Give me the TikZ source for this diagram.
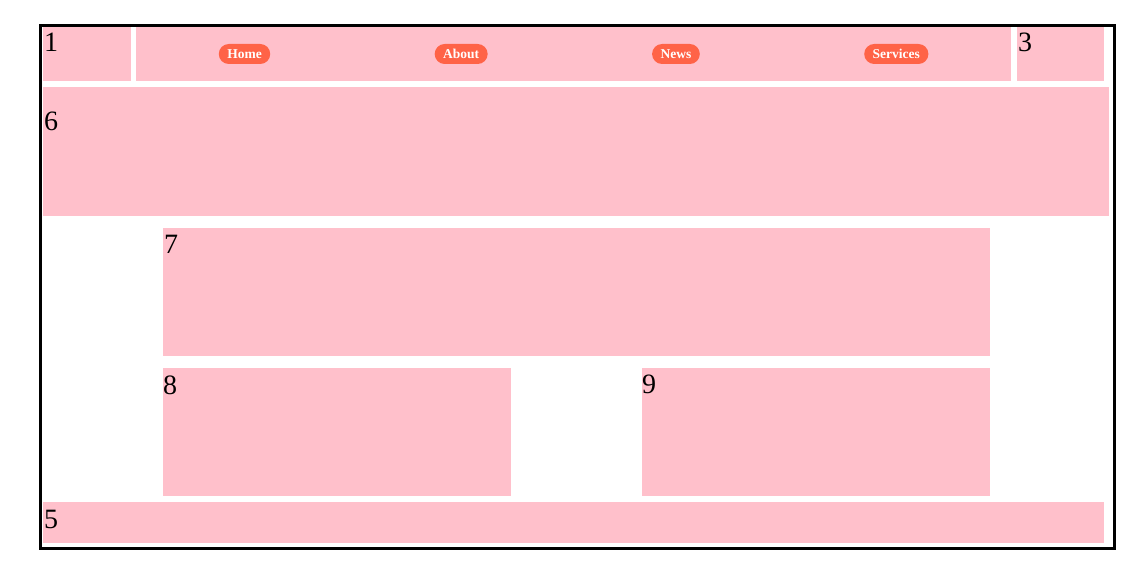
\documentclass[tikz,border=0pt]{standalone}
\usepackage{fontspec}
\setmainfont{Liberation Serif}
\usetikzlibrary{positioning}
\definecolor{cellpink}{HTML}{FFC0CB}
\definecolor{navred}{HTML}{FF6347}

\begin{document}
\begin{tikzpicture}[x=1pt,y=-1pt,
    cell/.style={fill=cellpink,draw=none,anchor=north west,inner sep=0pt},
    num/.style={inner sep=0pt,font=\fontsize{28}{28}\selectfont},
    navbtn/.style={fill=navred,text=white,rounded corners=10pt,inner xsep=8.5pt,
        inner ysep=0pt,minimum height=20pt,font=\bfseries\fontsize{13.5}{13.5}\selectfont}]
    \useasboundingbox (0,0) rectangle (1145,577);
    \node[draw,line width=3pt,anchor=north west,inner sep=0pt,
        minimum width=1074,minimum height=522] (page) at (38.5,24.5) {};

    % header row
    \node[cell,minimum width=88,minimum height=54] (b1) at (43,27) {};
    \node[cell,minimum width=875,minimum height=54] (nav) at (136,27) {};
    \node[cell,minimum width=87,minimum height=54] (b3) at (1017,27) {};
    % wide rows
    \node[cell,minimum width=1066,minimum height=129] (b6) at (43,87) {};
    \node[cell,minimum width=827,minimum height=128] (b7) at (163,228) {};
    \node[cell,minimum width=348,minimum height=128] (b8) at (163,368) {};
    \node[cell,minimum width=348,minimum height=128] (b9) at (642,368) {};
    \node[cell,minimum width=1061,minimum height=41] (b5) at (43,502) {};

    % numbers
    \node[num,below right=6pt and 1pt of b1.north west] (n1) {1};
    \node[num,below right=6pt and 1pt of b3.north west] (n3) {3};
    \node[num,below right=25pt and 1pt of b6.north west] (n6) {6};
    \node[num,below right=7pt and 1pt of b7.north west] (n7) {7};
    \node[num,below right=8pt and 0pt of b8.north west] (n8) {8};
    \node[num,below right=7pt and 0pt of b9.north west] (n9) {9};
    \node[num,below right=8pt and 1pt of b5.north west] (n5) {5};

    % menu
    \node[navbtn] (home) at (244.5,54) {Home};
    \node[navbtn,right=164pt of home] (about) {About};
    \node[navbtn,right=164pt of about] (news) {News};
    \node[navbtn,right=164pt of news] (services) {Services};
\end{tikzpicture}
\end{document}
